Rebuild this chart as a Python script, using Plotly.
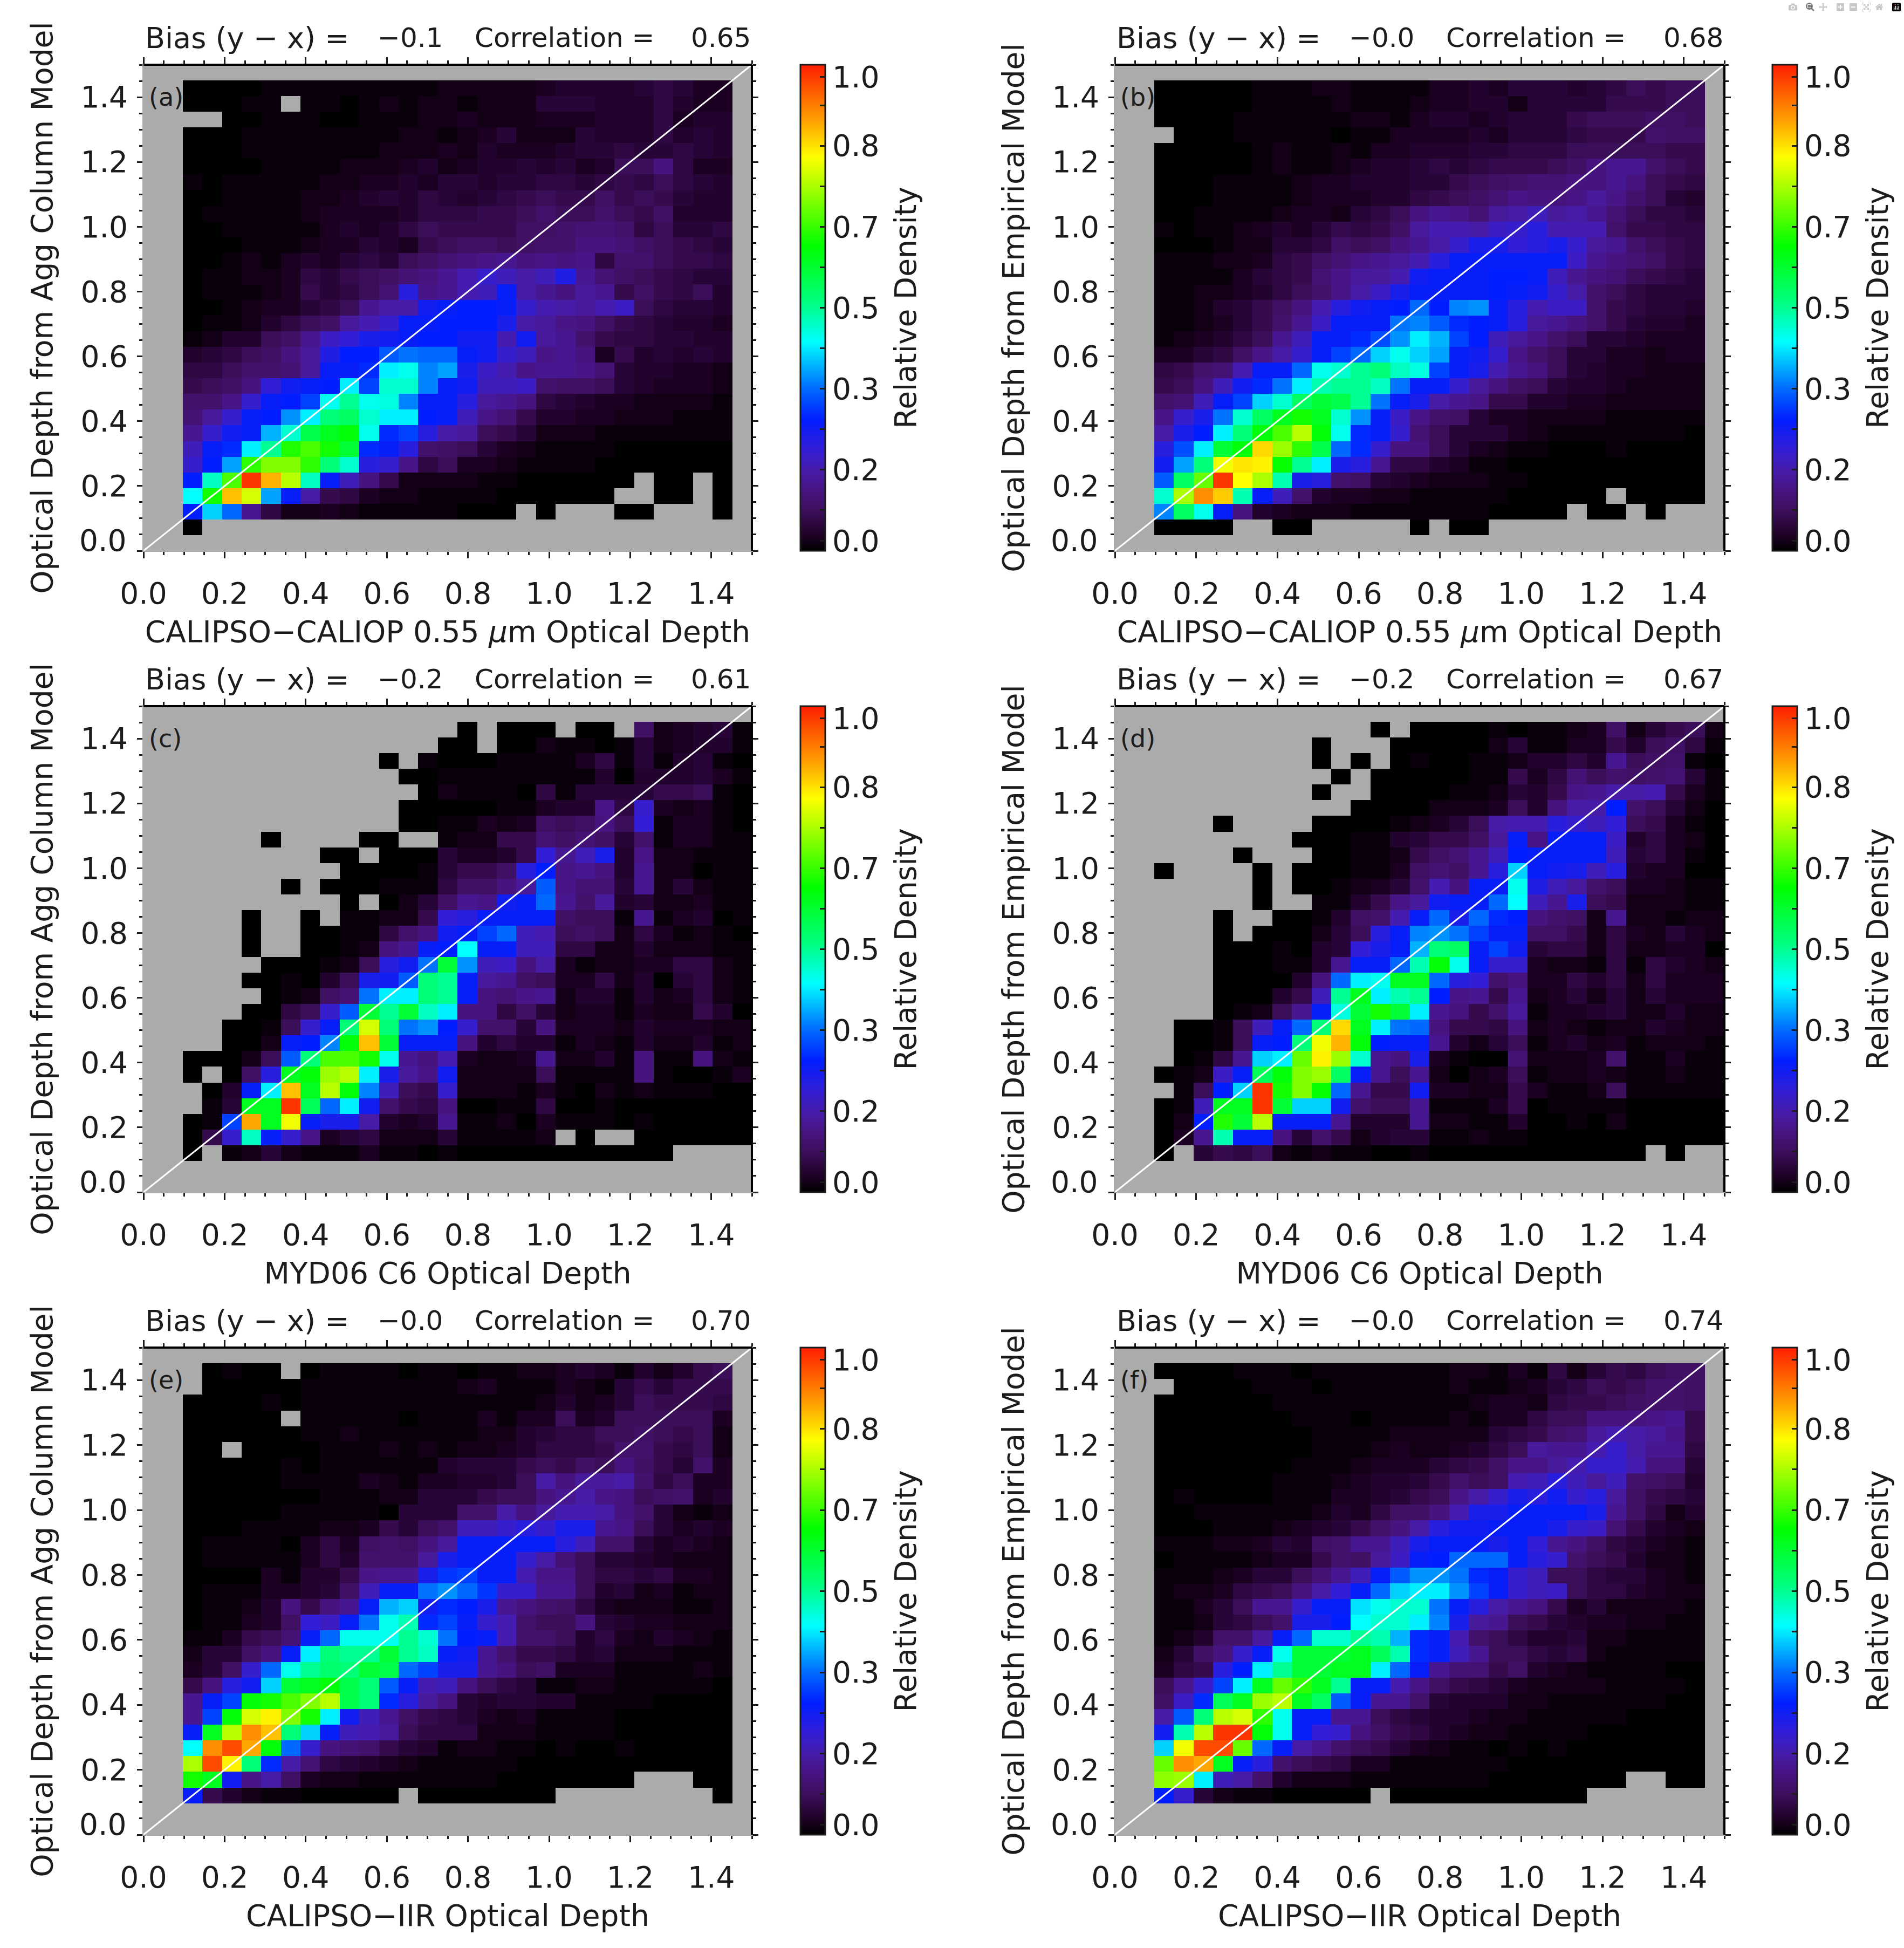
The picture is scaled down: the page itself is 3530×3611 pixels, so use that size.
import plotly.graph_objects as go

N = None
BIN_EDGES = [i * 1.5 / 31 for i in range(32)]
DIAGONAL = [0, 1.5]

PANEL_A = [
[],
[N,N,0,0,0,0,1,1,1,1,1,1,1,1,1,2,2,2,2,2,3,4,4,4,4,5,6,5,3,3],
[N,N,0,0,0,1,1,N,1,1,0,1,2,1,2,2,1,2,2,2,5,5,5,4,4,4,6,4,3,3],
[N,N,N,N,0,0,1,1,1,0,0,1,1,1,2,2,3,2,2,2,3,3,3,4,4,4,6,3,4,4],
[N,N,0,0,0,1,1,1,1,1,1,1,1,2,2,1,2,3,5,2,2,2,5,4,4,4,6,4,5,4],
[N,N,0,0,0,1,1,1,1,1,1,1,2,2,2,3,2,4,3,3,3,4,5,5,6,5,5,6,5,4],
[N,N,0,0,0,0,1,1,1,1,2,2,2,3,4,2,3,4,4,5,4,5,3,4,8,8,12,6,3,3],
[N,N,1,0,1,1,1,1,1,2,2,3,3,4,3,5,5,4,5,5,6,6,5,6,7,6,8,6,5,4],
[N,N,0,0,1,1,1,1,2,2,3,4,5,4,6,5,4,5,6,7,8,7,7,9,7,8,7,5,4,4],
[N,N,0,1,1,1,1,1,2,3,3,3,3,4,6,6,6,7,7,8,10,8,8,10,8,7,9,4,4,4],
[N,N,0,0,1,1,1,1,1,3,4,3,4,6,8,7,7,7,7,9,9,10,11,11,10,6,8,5,5,6],
[N,N,0,0,0,1,1,1,2,3,3,5,4,3,7,8,9,9,8,9,10,10,12,12,11,9,8,7,6,5],
[N,N,0,0,1,2,1,3,4,3,5,6,5,8,9,11,12,13,14,12,13,12,13,6,10,10,8,7,7,6],
[N,N,0,1,1,2,2,3,6,5,7,8,9,11,12,14,17,20,18,16,18,23,14,11,9,8,7,6,5,5],
[N,N,0,1,1,1,2,3,7,5,6,8,11,22,13,14,17,18,26,16,14,12,15,14,7,9,7,6,8,4],
[N,N,0,0,1,2,3,3,5,6,8,14,16,16,25,26,27,27,26,20,17,16,15,17,19,8,6,5,5,4],
[N,N,0,1,1,2,4,6,8,9,15,17,20,26,26,27,27,27,24,16,15,13,12,9,7,6,5,4,4,3],
[N,N,1,2,4,4,8,9,14,19,21,24,25,26,27,27,25,25,17,25,15,14,10,7,6,6,5,5,4,4],
[N,N,4,5,6,8,9,12,15,23,27,27,32,34,33,33,26,25,20,18,13,14,12,3,7,4,5,4,5,4],
[N,N,6,6,8,10,10,11,15,26,26,28,42,44,35,37,24,19,17,13,14,14,13,11,5,4,4,3,3,2],
[N,N,7,8,9,12,21,25,26,27,42,30,46,46,35,26,25,18,18,19,10,9,9,8,5,4,3,3,3,2],
[N,N,10,10,13,20,26,27,30,44,50,44,45,35,26,26,22,15,14,12,6,5,4,3,3,2,2,2,2,1],
[N,N,11,15,20,26,27,36,42,52,54,46,42,42,27,26,18,13,11,7,4,4,3,3,2,2,2,1,1,1],
[N,N,14,20,25,26,38,46,56,60,62,44,28,30,22,16,15,8,7,5,2,2,2,1,1,1,1,1,1,1],
[N,N,18,26,28,42,50,65,68,64,58,28,26,22,10,9,8,5,3,2,1,1,1,1,0,0,0,0,0,0],
[N,N,20,27,37,66,72,72,66,52,46,22,20,13,6,8,3,3,2,1,1,1,1,0,0,0,0,0,0,0],
[N,N,27,47,68,98,87,76,47,26,18,12,7,2,2,2,2,1,1,0,0,0,0,0,0,N,0,0,N,0],
[N,N,43,64,86,78,37,26,16,7,6,3,2,2,1,1,1,1,0,0,0,0,0,0,N,N,0,0,N,0],
[N,N,27,40,33,14,6,2,2,3,2,1,1,1,1,1,0,0,0,N,0,N,N,N,0,0,N,N,N,0],
[N,N,0],
[],
]

PANEL_B = [
[],
[N,N,0,0,0,0,0,1,1,1,2,2,1,1,1,1,3,3,4,3,5,5,5,4,5,6,8,7,8,8],
[N,N,0,0,0,0,0,1,1,1,1,2,1,1,1,2,3,3,4,4,2,5,5,5,5,7,7,7,8,8],
[N,N,0,0,0,0,1,1,1,1,1,1,2,2,1,3,4,4,3,4,5,5,5,7,8,8,8,9,9,8],
[N,N,N,0,0,0,1,1,1,1,1,0,1,1,3,3,3,3,4,3,5,5,5,6,7,7,7,10,9,9],
[N,N,0,0,0,0,0,1,2,1,1,2,1,3,3,4,4,4,5,5,6,6,6,8,8,8,8,8,7,7],
[N,N,0,0,0,0,0,1,2,1,1,2,3,4,4,5,6,5,6,7,7,7,8,9,12,14,14,10,8,7],
[N,N,0,0,0,1,1,1,1,2,3,3,4,4,4,5,5,7,8,9,10,11,11,12,12,14,12,8,7,6],
[N,N,0,0,0,1,1,1,1,2,3,3,3,4,4,6,7,8,9,11,13,12,12,13,15,13,10,8,5,4],
[N,N,0,0,1,1,1,1,2,3,3,2,5,6,8,12,14,13,11,15,16,18,15,16,14,11,8,6,6,5],
[N,N,1,0,1,1,2,3,4,3,5,7,6,7,9,15,17,17,16,19,20,22,17,17,17,10,7,7,6,6],
[N,N,0,0,0,1,2,2,5,5,6,9,8,9,12,14,16,20,24,24,21,22,24,20,15,14,10,8,7,6],
[N,N,1,1,1,2,2,3,6,7,9,11,13,14,15,17,22,26,26,26,26,26,26,19,14,12,11,9,7,6],
[N,N,1,1,1,1,3,5,6,7,11,13,15,15,17,25,26,26,26,27,27,26,18,14,12,11,8,7,6,5],
[N,N,1,1,2,2,3,4,6,8,10,13,16,19,24,26,26,26,26,27,26,25,20,16,10,8,6,5,5,5],
[N,N,1,1,2,4,5,7,9,12,17,22,25,26,27,33,27,35,36,26,22,17,19,19,10,7,6,5,5,4],
[N,N,1,1,2,3,5,7,10,14,19,26,26,26,34,35,32,28,27,26,22,15,14,12,10,7,5,4,4,3],
[N,N,1,2,3,4,6,8,14,18,26,26,28,31,36,42,38,30,27,18,15,13,10,8,5,5,4,3,3,3],
[N,N,3,3,5,6,9,13,16,20,26,30,33,40,44,40,37,26,25,20,13,10,8,5,5,3,3,2,3,3],
[N,N,6,7,10,11,17,26,26,33,44,46,50,52,47,45,30,26,24,17,14,12,8,5,4,3,3,2,2,2],
[N,N,7,8,12,18,25,28,34,42,48,50,50,47,34,26,26,20,15,12,9,8,5,4,4,3,2,2,2,2],
[N,N,10,11,18,26,30,40,46,54,58,56,50,34,26,24,16,14,13,7,7,4,4,3,3,2,2,2,2,2],
[N,N,13,20,24,34,46,54,60,64,60,46,36,26,19,13,10,9,5,3,3,2,2,2,2,1,1,1,1,1],
[N,N,16,24,27,42,52,62,68,76,62,44,28,26,20,11,8,5,5,5,3,2,1,1,1,1,1,1,1,0],
[N,N,22,31,42,58,62,84,74,66,56,33,28,20,12,12,8,5,3,2,1,1,0,0,0,1,0,0,0,0],
[N,N,25,37,52,80,83,82,63,50,42,24,22,14,6,6,4,3,1,1,0,0,0,0,0,0,0,0,0,0],
[N,N,32,54,70,98,81,75,48,24,22,10,9,5,4,3,2,2,2,1,1,0,0,0,0,0,0,0,0,0],
[N,N,46,75,90,85,48,26,18,10,4,3,3,2,2,1,1,1,1,1,0,0,0,0,0,N,0,0,0,0],
[N,N,35,54,44,26,12,4,3,2,2,2,1,1,1,1,1,1,1,0,0,0,0,N,0,0,N,0,N,N],
[N,N,0,0,0,0,N,N,0,0,N,N,N,N,N,0,N,0,0],
[],
]

PANEL_C = [
[],
[N]*16+[0,N,0,0,0,N,0,0,N,9,2,3,4,5,1],
[N]*15+[0,0,N,0,0,2,1,1,0,1,5,2,3,4,4,1],
[N]*12+[0,N,1,0,0,0,1,1,1,1,3,6,1,5,1,4,5,1,0],
[N]*13+[0,0,1,1,1,1,1,1,1,1,4,0,4,4,4,5,3,1],
[N]*14+[0,2,1,1,1,0,6,1,5,5,5,5,7,7,8,1,0],
[N]*13+[0,0,0,0,0,1,1,3,4,4,13,6,20,3,2,3,1,0],
[N]*13+[0,0,1,1,3,2,3,9,8,9,12,8,21,1,3,3,1,0],
[N]*6+[0,N,N,N,N,0,0,N,N,1,2,2,7,7,11,9,11,9,5,10,1,3,3,1,1],
[N]*9+[0,0,N,0,0,0,5,3,3,4,7,21,14,18,24,4,13,2,2,1,1,1],
[N]*10+[0,0,0,0,1,5,7,7,9,22,27,13,14,12,4,14,2,2,0,1,1],
[N]*7+[0,N,0,0,0,1,1,1,6,9,9,12,15,32,13,11,11,5,14,2,5,2,1,1],
[N]*10+[0,N,0,2,5,9,14,13,25,26,33,14,10,15,4,5,2,2,3,1,1],
[N]*5+[0,N,N,0,N,1,1,2,2,7,21,22,26,26,26,26,9,8,8,1,14,1,3,4,0,1],
[N]*5+[0,N,N,0,0,1,1,6,10,12,25,26,30,33,18,17,8,9,8,2,6,3,1,2,1,0],
[N]*5+[0,N,N,0,0,1,2,12,14,26,27,43,26,26,18,18,6,6,2,2,4,2,2,2,1,1],
[N]*6+[0,0,0,1,2,8,22,25,34,58,36,18,19,12,16,3,1,2,2,3,3,6,6,2,1],
[N]*5+[0,0,1,0,4,8,24,25,32,52,50,26,15,14,9,8,3,3,6,2,4,0,5,6,2,1],
[N]*6+[0,1,2,9,11,34,42,42,52,50,26,12,11,13,14,2,4,4,1,4,2,3,6,2,1],
[N]*5+[0,0,6,8,20,32,58,50,58,47,42,12,12,6,9,5,2,3,3,1,3,2,2,7,4,0],
[N]*4+[0,0,1,8,20,26,52,78,52,34,36,27,20,10,10,5,12,3,3,3,2,4,3,3,3,2,2],
[N]*4+[0,0,2,26,27,35,62,86,58,26,26,26,12,4,6,4,4,1,3,2,1,4,2,2,4,1,2],
[N,N,0,0,0,2,8,32,52,68,68,64,44,14,12,17,3,2,2,3,14,2,2,4,1,12,1,1,12,2,1],
[N,N,0,N,0,9,22,60,62,74,76,42,24,15,13,25,2,2,2,2,8,1,1,1,1,12,1,0,0,1,3],
[N,N,N,0,4,26,42,86,60,76,62,35,18,8,7,20,2,2,2,1,3,1,0,2,1,2,1,1,1,0,0],
[N,N,N,1,5,60,60,98,55,33,42,25,10,7,6,12,0,0,1,1,6,0,0,1,0,0,0,0,0,0,0],
[N,N,0,1,30,88,60,80,26,24,24,16,4,3,4,14,1,1,2,0,3,1,1,1,0,1,0,0,0,0,0],
[N,N,0,7,20,47,26,20,13,3,5,6,2,2,2,5,1,1,1,1,2,N,0,N,N,0,0,0,0,0,0],
[N,N,0,N,1,2,5,2,1,1,1,3,1,1,0,1,0,0,0,0,0,0,0,0,0,0,0],
[],
[],
]

PANEL_D = [
[],
[N]*13+[0,N,0,0,0,0,1,0,1,1,2,3,9,2,5,7,8,2],
[N]*10+[0,N,N,N,0,0,0,0,0,2,5,1,1,3,3,7,4,8,9,6,1],
[N]*10+[0,N,0,N,0,1,0,0,1,1,2,4,4,6,4,14,8,9,10,1,0],
[N]*11+[0,N,0,0,0,0,0,1,1,7,3,6,11,8,10,9,10,11,5,1],
[N]*10+[0,N,N,0,0,0,0,1,1,2,5,4,7,13,14,16,16,17,7,3,1],
[N]*12+[0,0,0,0,2,2,2,3,8,4,12,16,16,27,10,8,5,2,0],
[N]*5+[0,N,N,N,N,0,0,0,0,1,2,3,5,8,16,17,17,22,20,18,21,8,7,3,1,0],
[N]*9+[0,0,0,1,1,4,5,7,7,9,15,26,13,26,26,26,19,4,6,3,2,0],
[N]*6+[0,N,N,N,0,0,1,1,2,7,9,11,14,18,27,26,26,26,26,18,5,6,3,1,0],
[N,N,0,N,N,N,N,0,N,0,0,0,1,1,3,9,11,9,14,22,40,26,25,24,18,22,4,3,3,0,0],
[N]*7+[0,N,0,0,1,2,3,5,10,17,12,26,26,44,23,18,15,10,8,3,3,2,1,1],
[N]*7+[0,N,N,1,1,4,7,13,15,25,26,26,33,43,18,14,24,8,7,2,2,2,1,1],
[N]*5+[0,N,N,0,0,1,4,9,10,17,26,33,24,33,28,27,12,10,9,2,14,2,2,1,2,2],
[N]*5+[0,N,0,0,0,2,5,8,22,26,35,36,34,30,26,26,9,9,7,2,6,3,2,5,3,2],
[N]*5+[0,0,0,1,0,4,5,21,24,26,38,52,54,26,30,25,5,6,6,2,6,2,2,3,3,0],
[N]*5+[0,0,0,1,1,4,14,26,26,33,48,62,44,26,20,20,3,2,2,1,6,1,6,4,3,2],
[N]*5+[0,0,0,0,4,12,33,42,44,60,60,33,22,21,10,12,3,3,6,4,6,2,6,3,3,3],
[N]*5+[0,0,0,4,7,18,50,60,42,48,50,27,13,14,7,14,2,3,5,2,5,2,5,3,3,3],
[N]*5+[0,1,2,8,14,26,45,58,64,58,42,14,12,7,10,15,1,3,3,4,5,2,2,4,2,2],
[N]*3+[0,0,1,8,18,26,33,52,84,60,42,34,33,12,7,7,6,12,2,3,2,1,2,2,4,3,2,2],
[N]*3+[0,0,1,8,26,27,52,80,87,62,27,26,26,14,4,2,5,8,1,3,4,2,3,1,2,2,2,1],
[N]*3+[0,1,6,14,40,42,70,82,74,46,14,12,24,3,1,0,0,11,2,2,2,3,10,1,1,3,1,1],
[N,N,0,1,2,19,26,55,62,72,74,54,26,14,8,14,2,0,2,3,8,1,2,2,3,2,1,1,2,1,1],
[N,N,N,1,8,27,40,98,64,72,63,33,14,7,7,25,3,3,2,2,7,3,1,1,2,8,1,1,1,1,1],
[N,N,0,1,18,60,60,98,58,40,40,25,10,8,8,14,1,1,1,3,7,0,1,1,1,1,0,0,0,0,0],
[N,N,0,2,27,65,58,76,26,26,26,14,4,4,4,14,2,2,1,1,4,0,0,1,0,2,0,0,0,0,0],
[N,N,0,3,14,48,26,26,12,5,10,7,2,4,5,5,1,1,2,1,1,0,0,0,0,0,0,0,0,0,0],
[N,N,0,N,5,7,6,8,2,1,2,1,1,0,0,1,0,0,0,0,0,0,0,0,0,0,0,N,0],
[],
[],
]

PANEL_E = [
[],
[N,N,N,0,1,0,0,N,0,1,1,1,1,0,1,1,0,1,1,2,2,3,4,3,1,4,2,4,7,8],
[N,N,N,0,0,0,0,0,1,1,1,1,1,1,1,1,2,3,1,1,1,3,2,1,5,7,5,7,7,7],
[N,N,0,0,0,0,1,0,1,1,1,1,1,1,1,1,1,1,1,1,2,4,2,3,5,8,7,7,7,6],
[N,N,0,0,0,0,0,N,1,1,1,1,1,0,1,1,1,3,1,3,3,8,3,4,8,8,8,8,8,3],
[N,N,0,0,0,0,0,0,1,1,2,1,1,1,1,1,1,2,2,4,5,6,6,8,8,9,8,7,8,2],
[N,N,0,0,N,0,0,0,0,1,1,1,2,1,2,1,2,2,3,4,6,6,6,7,10,10,7,6,8,2],
[N,N,0,0,0,0,0,1,0,1,1,1,1,1,1,4,5,5,5,7,8,7,9,8,12,9,7,5,10,3],
[N,N,0,0,0,0,0,1,1,1,1,3,2,1,3,3,4,4,5,8,16,12,15,15,16,10,6,8,3,3],
[N,N,0,0,0,0,0,0,0,1,1,1,2,2,5,5,5,7,8,8,12,14,16,13,12,8,9,10,3,4],
[N,N,0,0,0,0,0,1,1,1,1,1,0,5,5,5,10,10,16,12,15,17,17,16,12,10,5,2,1,2],
[N,N,0,0,0,1,1,1,1,2,2,3,7,5,8,10,18,18,20,22,20,24,24,14,13,8,5,3,4,3],
[N,N,0,1,1,1,1,0,3,6,3,9,10,9,12,15,26,26,26,26,26,22,18,10,10,5,3,4,3,2],
[N,N,0,1,1,1,1,1,3,6,4,10,10,10,15,24,26,26,26,20,16,11,8,5,5,4,3,2,2,2],
[N,N,0,0,0,0,3,1,4,4,7,13,14,14,24,29,30,26,26,17,13,13,8,6,6,5,6,3,3,2],
[N,N,0,1,1,1,3,3,4,5,9,18,26,26,34,36,33,29,20,20,14,14,8,4,5,2,3,1,2,2],
[N,N,0,1,1,2,4,12,7,12,14,26,38,40,25,28,27,24,14,12,10,9,6,3,2,2,2,1,1,2],
[N,N,0,1,1,3,4,9,21,19,26,34,44,48,28,30,26,20,17,10,8,8,12,5,4,3,3,2,2,2],
[N,N,1,1,3,7,8,11,26,33,44,44,44,50,46,34,27,26,17,10,10,8,4,6,3,2,4,3,2,1],
[N,N,2,5,5,9,12,26,42,52,50,50,58,50,47,26,25,14,10,7,7,6,4,5,2,2,2,1,1,1],
[N,N,3,5,9,20,33,44,50,53,52,58,56,33,30,24,24,14,12,8,9,3,3,3,1,1,1,1,2,1],
[N,N,7,12,22,25,40,58,60,62,56,52,32,26,17,18,12,8,6,5,1,1,2,2,1,1,1,1,1,0],
[N,N,14,26,30,62,64,68,72,76,56,52,28,22,15,12,5,4,5,5,4,4,1,1,1,1,0,0,0,0],
[N,N,14,30,62,78,82,72,64,42,25,18,14,9,7,6,5,3,2,3,1,1,1,1,0,0,0,0,0,0],
[N,N,26,60,76,90,86,52,40,26,18,17,15,8,6,6,6,2,2,2,1,1,1,1,0,0,0,0,0,0],
[N,N,43,90,96,88,62,33,20,12,11,10,7,5,4,1,2,2,1,1,0,1,0,0,1,0,0,0,0,0],
[N,N,75,96,82,52,28,16,11,6,5,4,3,2,1,1,1,1,1,0,0,0,0,0,0,0,0,0,0,0],
[N,N,64,60,25,13,16,9,3,2,2,1,1,1,1,1,1,1,0,0,0,0,0,0,0,N,N,N,0,0],
[N,N,26,7,4,2,1,1,0,0,0,0,0,N,0,0,0,0,0,0,0,N,N,N,N,N,N,N,N,0],
[],
[],
]

PANEL_F = [
[],
[N,N,0,0,0,0,1,1,1,0,1,1,1,1,1,1,1,2,2,1,3,1,6,2,5,7,6,8,9,9],
[N,N,N,0,0,0,0,1,1,1,0,1,1,1,1,1,1,2,1,1,2,3,5,6,8,7,8,10,10,9],
[N,N,0,0,0,0,0,0,1,1,1,1,1,1,1,1,1,1,2,3,3,2,6,7,7,8,9,10,10,9],
[N,N,0,0,0,0,0,0,0,1,1,1,0,1,1,1,1,2,1,3,3,6,8,8,12,12,12,13,14,7],
[N,N,0,0,0,0,0,0,0,0,1,1,1,1,2,2,2,2,2,5,6,7,10,11,15,17,16,15,13,7],
[N,N,0,0,0,0,0,0,0,0,1,1,1,2,3,2,2,3,4,6,8,15,14,14,17,20,16,14,14,6],
[N,N,0,0,0,0,0,0,0,1,1,1,2,3,3,3,5,6,7,9,13,13,15,17,20,20,17,12,12,5],
[N,N,0,0,0,0,0,0,1,1,1,2,3,4,4,5,7,10,8,9,17,18,22,18,15,18,10,9,8,4],
[N,N,0,1,0,0,0,0,1,1,1,3,3,4,5,7,8,13,16,20,24,22,25,20,22,15,9,7,6,5],
[N,N,0,0,1,1,1,1,1,1,2,4,3,6,9,9,12,17,24,24,26,26,26,26,24,14,9,6,2,4],
[N,N,0,0,0,1,1,1,2,3,4,5,7,10,12,16,22,25,25,26,26,26,24,20,19,11,7,4,3,2],
[N,N,1,1,1,2,2,3,5,4,9,10,14,14,18,24,26,26,26,24,26,21,14,12,9,6,5,3,2,1],
[N,N,0,1,1,1,1,2,3,3,7,10,9,15,19,26,27,33,33,33,26,22,20,10,8,7,4,2,2,1],
[N,N,1,1,1,2,3,5,5,8,11,14,18,26,32,36,36,34,28,26,20,18,8,8,6,5,5,3,2,1],
[N,N,1,2,2,3,6,7,8,12,16,21,26,33,40,42,42,36,30,26,20,18,19,8,6,6,4,3,2,2],
[N,N,1,1,3,5,8,14,14,20,26,26,41,44,46,46,34,26,22,16,14,12,7,3,5,2,2,2,2,1],
[N,N,1,1,2,5,6,8,10,24,24,27,43,46,46,42,35,24,15,14,8,7,5,4,3,3,2,2,1,1],
[N,N,1,2,4,10,10,15,26,33,46,46,50,48,38,28,26,17,10,8,6,4,4,5,2,2,1,1,1,1],
[N,N,2,5,9,12,20,26,44,58,58,58,60,55,48,28,26,18,14,8,8,6,5,6,2,1,1,1,1,1],
[N,N,3,6,7,22,27,42,50,58,58,60,60,42,33,26,14,11,11,7,9,4,3,2,1,1,1,1,0,0],
[N,N,8,14,20,30,42,60,70,66,60,50,26,26,17,13,9,7,6,5,3,2,2,2,2,1,1,1,1,0],
[N,N,9,19,28,55,60,74,76,60,54,32,26,14,14,10,5,4,4,4,2,2,1,1,1,1,1,1,0,0],
[N,N,16,32,52,76,78,66,44,26,26,14,14,8,6,5,4,4,3,2,2,1,1,1,1,1,0,0,0,0],
[N,N,25,48,76,98,98,62,44,26,21,20,12,9,7,6,4,3,2,2,1,1,1,1,0,0,0,0,0,0],
[N,N,40,80,96,96,70,33,26,16,14,10,8,7,5,3,2,1,1,0,1,0,1,0,0,0,0,0,0,0],
[N,N,70,90,88,60,26,22,10,8,7,6,3,3,1,1,1,1,1,1,0,0,0,0,0,0,0,0,0,0],
[N,N,73,74,42,18,16,10,4,2,2,2,1,1,1,1,1,1,1,0,0,0,0,0,0,0,N,N,0,0],
[N,N,27,20,5,2,1,1,0,0,0,0,0,N,0,0,0,0,0,0,0,0,0,0],
[],
[],
]

PANELS = [PANEL_A, PANEL_B, PANEL_C, PANEL_D, PANEL_E, PANEL_F]
LETTERS = ["(a)", "(b)", "(c)", "(d)", "(e)", "(f)"]
BIAS = ["\u22120.1", "\u22120.0", "\u22120.2", "\u22120.2", "\u22120.0", "\u22120.0"]
CORR = ["0.65", "0.68", "0.61", "0.67", "0.70", "0.74"]
X_TITLES = ["CALIPSO\u2212CALIOP 0.55 <i>\u03bc</i>m Optical Depth"] * 2 + ["MYD06 C6 Optical Depth"] * 2 + ["CALIPSO\u2212IIR Optical Depth"] * 2
Y_TITLES = ["Optical Depth from Agg Column Model", "Optical Depth from Empirical Model"] * 3
AXIS_TICKS = [0.0, 0.2, 0.4, 0.6, 0.8, 1.0, 1.2, 1.4]
AXIS_LABELS = ["0.0", "0.2", "0.4", "0.6", "0.8", "1.0", "1.2", "1.4"]
CBAR_TICKS = [0.02, 1/12, 2/12, 3/12, 4/12, 5/12, 6/12, 7/12, 8/12, 9/12, 10/12, 11/12, 0.975]
CBAR_LABELS = ["0.0", "", "0.2", "", "0.3", "", "0.5", "", "0.7", "", "0.8", "", "1.0"]

COLORSCALE = [
    [0.0, "rgb(0,0,0)"], [0.03, "rgb(28,0,34)"], [0.085, "rgb(62,15,95)"], [0.125, "rgb(72,20,130)"],
    [0.165, "rgb(70,28,170)"], [0.21, "rgb(50,30,215)"], [0.27, "rgb(0,30,255)"], [0.336, "rgb(0,110,255)"],
    [0.43, "rgb(0,255,255)"], [0.51, "rgb(0,255,130)"], [0.627, "rgb(0,255,0)"],
    [0.75, "rgb(170,255,0)"], [0.81, "rgb(255,255,0)"], [0.885, "rgb(255,160,0)"],
    [1.0, "rgb(255,30,0)"],
]

W, H = 3530, 3611
GRAY = "#ABABAB"
INK = "#1c1c1c"
FONT = "DejaVu Sans"
FS = 55
COL_X = [(266, 1394), (2067, 3197)]
ROW_Y = [(120, 1021), (1309, 2210), (2498, 3401)]
CB_X = [1484, 3286]


def px(v):
    return v / W


def py(v):
    return 1 - v / H


fig = go.Figure()
annos = []
shapes = []

for i, rows in enumerate(PANELS):
    col, row = i % 2, i // 2
    x0, x1 = COL_X[col]
    y0, y1 = ROW_Y[row]
    s = "" if i == 0 else str(i + 1)
    grid = [(list(r) + [None] * 31)[:31] for r in rows]
    z = [[None if v is None else v / 100 for v in r] for r in grid][::-1]
    fig.add_trace(go.Heatmap(x=BIN_EDGES, y=BIN_EDGES, z=z, coloraxis="coloraxis" + s,
                             xaxis="x" + s, yaxis="y" + s, hoverongaps=False))
    fig.add_trace(go.Scatter(x=DIAGONAL, y=DIAGONAL, mode="lines", xaxis="x" + s, yaxis="y" + s,
                             line=dict(color="white", width=3), showlegend=False, hoverinfo="skip"))
    minor = dict(dtick=0.05, tick0=0, ticks="outside", ticklen=6, tickwidth=3, tickcolor=INK)
    common = dict(range=[0, 1.5], tickmode="array", ticks="outside", tickwidth=3, tickcolor=INK,
                  showgrid=False, zeroline=False, showline=True, linecolor=GRAY, linewidth=2,
                  mirror="ticks", minor=minor, tickfont=dict(family=FONT, size=FS, color=INK))
    fig.layout["xaxis" + s] = dict(common, domain=[px(x0), px(x1)], anchor="y" + s, tickvals=AXIS_TICKS,
                                   ticktext=AXIS_LABELS, ticklen=12, ticklabelstandoff=18,
                                   title=dict(text=X_TITLES[i], standoff=20,
                                              font=dict(family=FONT, size=55, color=INK)))
    fig.layout["yaxis" + s] = dict(common, domain=[py(y1), py(y0)], anchor="x" + s, tickvals=AXIS_TICKS,
                                   ticktext=[""] + AXIS_LABELS[1:], ticklen=10, ticklabelstandoff=6,
                                   title=dict(text=Y_TITLES[i], standoff=34,
                                              font=dict(family=FONT, size=55, color=INK)))
    fig.layout["coloraxis" + s] = dict(
        colorscale=COLORSCALE, cmin=0, cmax=1,
        colorbar=dict(x=px(CB_X[col]), xanchor="left", xpad=0, ypad=0, y=py((y0 + y1) / 2), yanchor="middle",
                      lenmode="pixels", len=y1 - y0, thicknessmode="pixels", thickness=46,
                      outlinewidth=3, outlinecolor=INK, borderwidth=0,
                      tickmode="array", tickvals=CBAR_TICKS, ticktext=CBAR_LABELS,
                      ticks="inside", ticklen=11, tickwidth=3, tickcolor=INK,
                      tickfont=dict(family=FONT, size=FS, color=INK)))

    shapes.append(dict(type="line", xref=f"x{s} domain", yref=f"y{s} domain", x0=0, x1=1, y0=1, y1=1,
                       line=dict(color="black", width=4)))
    shapes.append(dict(type="line", xref=f"x{s} domain", yref=f"y{s} domain", x0=1, x1=1, y0=0, y1=1,
                       line=dict(color="black", width=4)))

    def text(t, xp, yp, anchor="left", size=50, angle=0):
        annos.append(dict(text=t, x=px(xp), y=py(yp), xref="paper", yref="paper", xanchor=anchor,
                          yanchor="middle", showarrow=False, textangle=angle,
                          font=dict(family=FONT, size=size, color=INK)))

    text("Bias (y \u2212 x) =", x0 + 1, y0 - 50, size=54)
    text(BIAS[i], x0 + 432, y0 - 50, size=50)
    text("Correlation =", x0 + 612, y0 - 50, size=50)
    text(CORR[i], x1, y0 - 50, anchor="right", size=50)
    text(LETTERS[i], x0 + 8, y0 + 60, size=46)
    text("0.0", x0 - 30, y1 - 19, anchor="right", size=FS)
    text("Relative Density", CB_X[col] + 194, (y0 + y1) / 2, anchor="center", size=55, angle=-90)

fig.update_layout(width=W, height=H, autosize=False,
                  margin=dict(l=0, r=0, t=0, b=0, autoexpand=False), paper_bgcolor="white",
                  showlegend=False, annotations=annos, shapes=shapes, plot_bgcolor=GRAY)
fig.write_html("out.html", post_script="document.body.style.margin='0';")
